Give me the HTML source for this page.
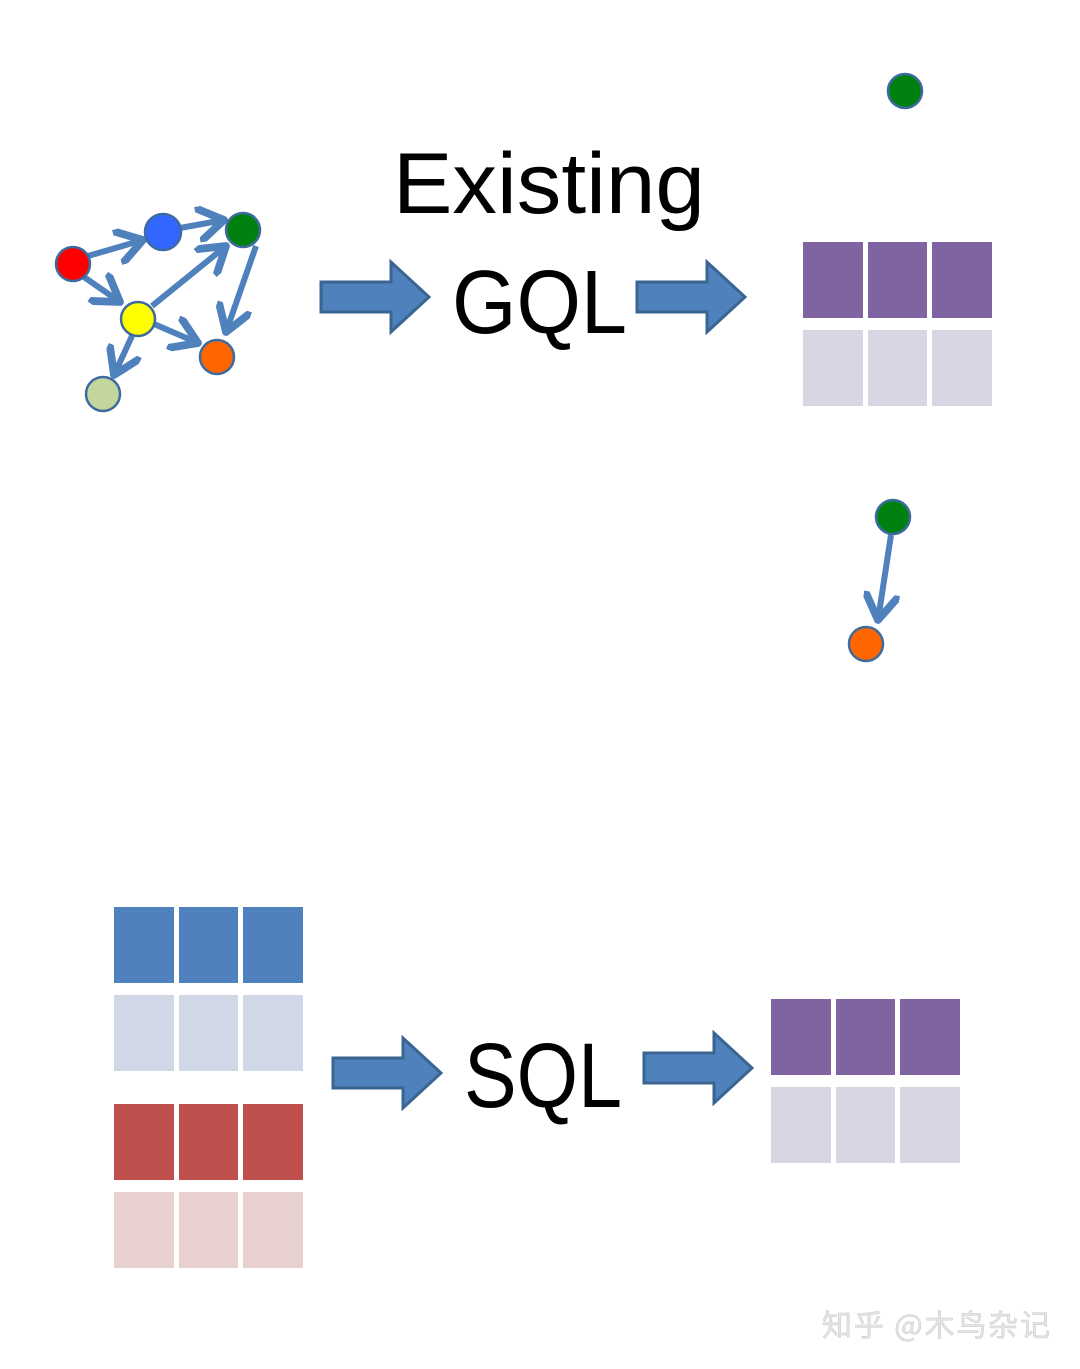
<!DOCTYPE html>
<html><head><style>
body{margin:0;width:1080px;height:1369px;background:#fff;overflow:hidden;font-family:"Liberation Sans",sans-serif}
svg{position:absolute;left:0;top:0}
</style></head><body>
<svg width="1080" height="1369" viewBox="0 0 1080 1369">
<defs>
<marker id="ah" markerWidth="6" markerHeight="6" refX="4.5" refY="3" orient="auto" markerUnits="strokeWidth">
<path d="M0.3,0.3 L4.5,3 L0.3,5.7" fill="none" stroke="#4f81bd" stroke-width="1.3" stroke-linecap="round" stroke-linejoin="round"/></marker>
<g id="barrow"><path d="M0,-15 H70 V-35 L108,0 L70,35 V15 H0 Z" fill="#4f81bd" stroke="#3a6593" stroke-width="3"/></g>
</defs>
<g stroke="#4f81bd" stroke-width="6" fill="none" marker-end="url(#ah)">
<line x1="88" y1="256" x2="143" y2="240"/>
<line x1="180" y1="228" x2="224" y2="220"/>
<line x1="84" y1="277" x2="120" y2="302"/>
<line x1="152" y1="306" x2="226" y2="246"/>
<line x1="256" y1="246" x2="226" y2="332"/>
<line x1="154" y1="324" x2="198" y2="343"/>
<line x1="132" y1="336" x2="114" y2="375"/>
<line x1="891" y1="535" x2="878" y2="620"/>
</g>
<g stroke="#3d6ba0" stroke-width="2.5">
<circle cx="73" cy="264" r="17" fill="#f00"/>
<circle cx="163" cy="232" r="18" fill="#3366ff"/>
<circle cx="243" cy="230" r="17" fill="#00800f"/>
<circle cx="138" cy="319" r="17" fill="#ffff00"/>
<circle cx="217" cy="357" r="17" fill="#ff6600"/>
<circle cx="103" cy="394" r="17" fill="#c3d69b"/>
<circle cx="905" cy="91" r="17" fill="#00800f"/>
<circle cx="893" cy="517" r="17" fill="#00800f"/>
<circle cx="866" cy="644" r="17" fill="#ff6600"/>
</g>
<use href="#barrow" transform="translate(321,297)"/>
<use href="#barrow" transform="translate(637,297)"/>
<use href="#barrow" transform="translate(333,1073)"/>
<use href="#barrow" transform="translate(644,1068)"/>
<g>
<g fill="#8064a2"><rect x="803" y="242" width="60" height="76"/><rect x="868" y="242" width="59" height="76"/><rect x="932" y="242" width="60" height="76"/></g>
<g fill="#d9d5e3"><rect x="803" y="330" width="60" height="76"/><rect x="868" y="330" width="59" height="76"/><rect x="932" y="330" width="60" height="76"/></g>
<g fill="#8064a2"><rect x="771" y="999" width="60" height="76"/><rect x="836" y="999" width="59" height="76"/><rect x="900" y="999" width="60" height="76"/></g>
<g fill="#d9d5e3"><rect x="771" y="1087" width="60" height="76"/><rect x="836" y="1087" width="59" height="76"/><rect x="900" y="1087" width="60" height="76"/></g>
<g fill="#4f81bd"><rect x="114" y="907" width="60" height="76"/><rect x="179" y="907" width="59" height="76"/><rect x="243" y="907" width="60" height="76"/></g>
<g fill="#d0d8e8"><rect x="114" y="995" width="60" height="76"/><rect x="179" y="995" width="59" height="76"/><rect x="243" y="995" width="60" height="76"/></g>
<g fill="#c0504d"><rect x="114" y="1104" width="60" height="76"/><rect x="179" y="1104" width="59" height="76"/><rect x="243" y="1104" width="60" height="76"/></g>
<g fill="#e8d0d0"><rect x="114" y="1192" width="60" height="76"/><rect x="179" y="1192" width="59" height="76"/><rect x="243" y="1192" width="60" height="76"/></g>
</g>
<text x="393" y="213" font-family="Liberation Sans" font-size="86" textLength="312" lengthAdjust="spacingAndGlyphs">Existing</text>
<text x="452" y="333" font-family="Liberation Sans" font-size="90" textLength="175" lengthAdjust="spacingAndGlyphs">GQL</text>
<text x="464" y="1107" font-family="Liberation Sans" font-size="92" textLength="158" lengthAdjust="spacingAndGlyphs">SQL</text>
<text x="822" y="1336" font-family="Noto Sans CJK SC, sans-serif" font-size="30" fill="#e4e4e4" stroke="#cfcfcf" stroke-width="0.6" textLength="228">知乎 @木鸟杂记</text>
</svg>
</body></html>
